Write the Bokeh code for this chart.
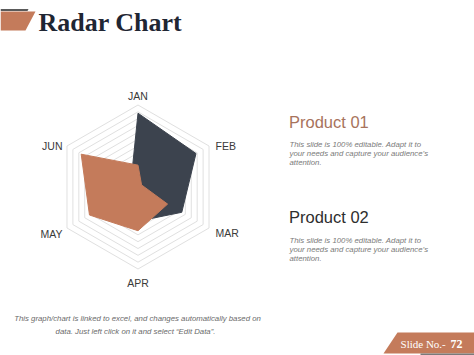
import numpy as np
from bokeh.plotting import figure
from bokeh.models import Range1d
from bokeh.core.properties import value
from bokeh.embed import file_html
from bokeh.resources import INLINE

# ---------------- data ----------------
months = ["JAN", "FEB", "MAR", "APR", "MAY", "JUN"]
product_01 = [16, 3, 25, 32, 41, 48]     # copper series
product_02 = [54, 49, 37, 25, 10, 6]     # dark series
ring_values = [5, 10, 15, 20, 25, 30, 35, 40, 45, 50, 55, 60]
max_value = 60

title_text = "Radar Chart"
prod_titles = ["Product 01", "Product 02"]
desc_lines = ["This slide is 100% editable. Adapt it to",
              "your needs and capture your audience\u2019s",
              "attention."]
footer_lines = ["This graph/chart is linked to excel, and changes automatically based on",
                "data. Just left click on it and select \u201cEdit Data\u201d."]
slide_label = "Slide No.- "
slide_num = "72"

# ---------------- layout ----------------
W, H = 474, 355
CX, CY, R = 137.5, 186.5, 82
COPPER = "#c47b5b"
DARK = "#3c434e"

p = figure(width=W, height=H, output_backend="svg", toolbar_location=None,
           x_range=Range1d(0, W), y_range=Range1d(H, 0), min_border=0)
p.axis.visible = False
p.grid.visible = False
p.outline_line_color = None
p.background_fill_color = "white"
p.border_fill_color = "white"

ang = np.deg2rad(np.arange(len(months)) * 360.0 / len(months))


def poly(vals):
    r = np.asarray(vals, dtype=float) / max_value * R
    return list(CX + r * np.sin(ang)), list(CY - r * np.cos(ang))


# rings
ring_xs, ring_ys = [], []
for rv in ring_values:
    xs, ys = poly([rv] * len(months))
    ring_xs.append(xs)
    ring_ys.append(ys)
p.patches(ring_xs, ring_ys, fill_color=None, line_color="#e0e0e0", line_width=1)

# series
x2, y2 = poly(product_02)
p.patch(x2, y2, fill_color=DARK, line_color=DARK, line_width=1)
x1, y1 = poly(product_01)
p.patch(x1, y1, fill_color=COPPER, line_color=COPPER, line_width=1)

# month labels
lab_font = value("Liberation Sans")
lab_pos = {"JAN": (137.5, 95, "center"), "FEB": (215, 145, "left"),
           "MAR": (215, 232, "left"), "APR": (137.5, 282, "center"),
           "MAY": (62, 233, "right"), "JUN": (62, 145, "right")}
for m in months:
    x, y, al = lab_pos[m]
    p.text(x=[x], y=[y], text=[m], text_font=lab_font, text_font_size="10.5px",
           text_color="#3a3a3a", text_align=al, text_baseline="middle")

# header decoration and title
p.patch([0, 35, 25, 0], [11, 11, 30, 30], fill_color=COPPER, line_color=None)
p.patch([0, 28, 27, 0], [8.5, 8.5, 10.5, 10.5], fill_color="#5a5a5a", line_color=None)
p.text(x=[38], y=[22], text=[title_text], text_font=value("Liberation Serif"),
       text_font_style="bold", text_font_size="26px", text_color="#1f2633",
       text_align="left", text_baseline="middle")

# product blocks
for i, (ty, dy0) in enumerate([(121, 143.5), (216.5, 239.5)]):
    p.text(x=[288.5], y=[ty], text=[prod_titles[i]], text_font=lab_font,
           text_font_size="16.5px", text_color=["#a8735c", "#2e2e2e"][i],
           text_align="left", text_baseline="middle")
    p.text(x=[289] * 3, y=[dy0, dy0 + 9.2, dy0 + 18.4], text=desc_lines,
           text_font=lab_font, text_font_style="italic", text_font_size="7.8px",
           text_color="#7a7a7a", text_align="left", text_baseline="middle")

# footer
p.text(x=[137, 135], y=[317.5, 330.5], text=footer_lines, text_font=lab_font,
       text_font_style="italic", text_font_size="7.8px", text_color="#6a6a6a",
       text_align="center", text_baseline="middle")

# slide number badge
p.patch([397, 474, 474, 383], [332, 332, 353, 353], fill_color=COPPER, line_color=None)
p.patch([420, 474, 474, 420], [353, 353, 355, 355], fill_color="#7a7a7a", line_color=None)
p.text(x=[448], y=[343], text=[slide_label], text_font=value("Liberation Serif"),
       text_font_size="11px", text_color="white", text_align="right",
       text_baseline="middle")
p.text(x=[450], y=[343], text=[slide_num], text_font=value("Liberation Serif"),
       text_font_style="bold", text_font_size="12px", text_color="white",
       text_align="left", text_baseline="middle")

open("out.html", "w").write(file_html(p, INLINE))
